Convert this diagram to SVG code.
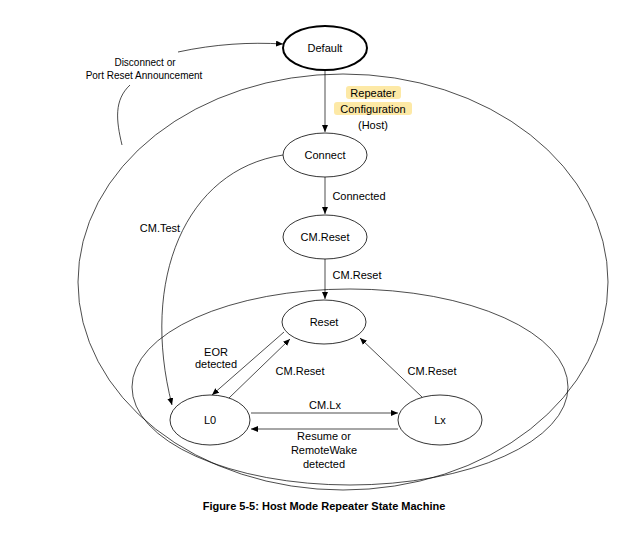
<svg xmlns="http://www.w3.org/2000/svg" width="630" height="559" viewBox="0 0 630 559">
<style>
text{font-family:"Liberation Sans",Arial,sans-serif;font-size:11px;fill:#000;text-anchor:middle}
.n{fill:#fff;stroke:#000;stroke-width:0.8}
.c{fill:none;stroke:#000;stroke-width:0.7}
.hl{fill:#fde9a6}
</style>
<defs><marker id="a" markerWidth="8" markerHeight="8" refX="7" refY="3" orient="auto" markerUnits="userSpaceOnUse"><path d="M0,0 L7,3 L0,6 Z" fill="#000"/></marker></defs>
<rect width="630" height="559" fill="#fff"/>
<g id="outer"><ellipse cx="343" cy="282" rx="265" ry="208" class="c"/></g>
<g id="inner"><ellipse cx="350" cy="387" rx="218" ry="98" class="c"/></g>
<g id="connectors">
<path class="c" d="M325,70 L325,132" marker-end="url(#a)"/>
<path class="c" d="M325,177 L325,214" marker-end="url(#a)"/>
<path class="c" d="M325,259 L325,299" marker-end="url(#a)"/>
<path class="c" d="M283,155 C185,170 140,280 172,405" marker-end="url(#a)"/>
<path class="c" d="M122,145 C116,120 114,100 130,85"/>
<path class="c" d="M178,52 C215,44 250,42 283,44" marker-end="url(#a)"/>
<path class="c" d="M229,398 L290,339" marker-end="url(#a)"/>
<path class="c" d="M284,332 L212,395" marker-end="url(#a)"/>
<path class="c" d="M422,397 L360,338" marker-end="url(#a)"/>
<path class="c" d="M251,413 L398,413" marker-end="url(#a)"/>
<path class="c" d="M398,429 L251,429" marker-end="url(#a)"/>
</g>
<g id="default"><ellipse cx="325" cy="48" rx="42" ry="22" fill="#fff" stroke="#000" stroke-width="2"/><text x="325" y="52">Default</text></g>
<g id="connect"><ellipse cx="325" cy="155" rx="42" ry="22" class="n"/><text x="325" y="159">Connect</text></g>
<g id="cmreset"><ellipse cx="325" cy="237" rx="42" ry="22" class="n"/><text x="325" y="241">CM.Reset</text></g>
<g id="reset"><ellipse cx="324" cy="322" rx="42" ry="22" class="n"/><text x="324" y="326">Reset</text></g>
<g id="l0"><ellipse cx="210" cy="420" rx="40" ry="25" class="n"/><text x="210" y="424">L0</text></g>
<g id="lx"><ellipse cx="440" cy="420" rx="42" ry="25" class="n"/><text x="440" y="424">Lx</text></g>
<g id="labels">
<text x="145" y="66" style="font-size:10px">Disconnect or</text>
<text x="144" y="79" style="font-size:10px">Port Reset Announcement</text>
<rect class="hl" x="346" y="86" width="55" height="13" rx="3"/>
<rect class="hl" x="334" y="102" width="78" height="13" rx="3"/>
<text x="373" y="97">Repeater</text>
<text x="373" y="113">Configuration</text>
<text x="373" y="129">(Host)</text>
<text x="359" y="200">Connected</text>
<text x="160" y="232">CM.Test</text>
<text x="357" y="279">CM.Reset</text>
<text x="216" y="356">EOR</text>
<text x="216" y="368">detected</text>
<text x="300" y="375">CM.Reset</text>
<text x="432" y="375">CM.Reset</text>
<text x="325" y="409">CM.Lx</text>
<text x="324" y="440">Resume or</text>
<text x="324" y="454">RemoteWake</text>
<text x="324" y="468">detected</text>
<text x="324" y="510" style="font-weight:bold">Figure 5-5: Host Mode Repeater State Machine</text>
</g>
</svg>
